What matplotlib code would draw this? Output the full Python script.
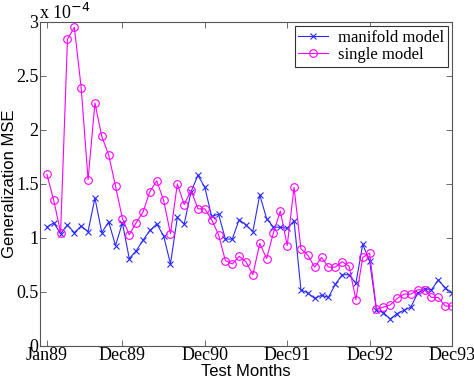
import matplotlib
matplotlib.use('Agg')
import matplotlib.pyplot as plt

# test months 1..60 (Jan89 .. Dec93), errors in units of 1e-4
months = list(range(1, 61))
manifold = [1.10, 1.14, 1.04, 1.12, 1.05, 1.11, 1.06, 1.37, 1.05, 1.15,
            0.93, 1.14, 0.81, 0.88, 0.98, 1.07, 1.13, 1.02, 0.76, 1.19,
            1.13, 1.43, 1.58, 1.47, 1.20, 1.22, 0.99, 0.99, 1.17, 1.12,
            1.06, 1.40, 1.18, 1.10, 1.10, 1.09, 1.16, 0.52, 0.49, 0.44,
            0.47, 0.45, 0.57, 0.66, 0.66, 0.58, 0.94, 0.79, 0.33, 0.31,
            0.25, 0.30, 0.33, 0.36, 0.49, 0.53, 0.52, 0.61, 0.54, 0.49]
single = [1.59, 1.35, 1.05, 2.84, 2.95, 2.39, 1.54, 2.25, 1.94, 1.77,
          1.48, 1.18, 1.03, 1.14, 1.24, 1.43, 1.53, 1.35, 1.04, 1.50,
          1.31, 1.44, 1.27, 1.27, 1.17, 1.03, 0.79, 0.76, 0.83, 0.78,
          0.66, 0.95, 0.81, 1.05, 1.25, 0.93, 1.47, 0.90, 0.84, 0.73,
          0.82, 0.73, 0.73, 0.78, 0.74, 0.43, 0.82, 0.86, 0.34, 0.36,
          0.38, 0.44, 0.48, 0.48, 0.52, 0.52, 0.45, 0.45, 0.37, 0.37]
tick_pos = [1, 12, 24, 36, 48, 60]
tick_lab = ['Jan89', 'Dec89', 'Dec90', 'Dec91', 'Dec92', 'Dec93']
ytick_pos = [0, 0.5, 1, 1.5, 2, 2.5, 3]
ytick_lab = ['0', '0.5', '1', '1.5', '2', '2.5', '3']

serif = 'Liberation Serif'
sans = 'Liberation Sans'

fig = plt.figure(figsize=(4.74, 3.80), dpi=100)
ax = fig.add_axes([40/474, 34/380, 412/474, 324/380])

ax.plot(months, manifold, '-', color='#2a2aff', lw=0.8, marker='x', ms=4, mew=0.8,
        label='manifold model')
ax.plot(months, single, '-', color='#ff00ff', lw=0.8, marker='o', ms=5.5, mew=0.8,
        mfc='none', label='single model')

ax.set_xlim(0, 60)
ax.set_ylim(0, 3)
ax.set_xticks(tick_pos)
ax.set_xticklabels(tick_lab, fontfamily=serif, fontsize=13)
ax.set_yticks(ytick_pos)
ax.set_yticklabels(ytick_lab, fontfamily=serif, fontsize=13)
ax.tick_params(direction='in', top=True, right=True, length=4, width=0.6,
               color='#555555', pad=1)
for s in ax.spines.values():
    s.set_color('#555555')
    s.set_linewidth(0.8)

ax.set_xlabel('Test Months', fontfamily=sans, fontsize=12, labelpad=0)
ax.set_ylabel('Generalization MSE', fontfamily=sans, fontsize=12, va='center')
ax.yaxis.set_label_coords(-30/412, 0.5)

fig.text(39/474, (380 - 19)/380, r'x 10$^{-4}$', fontfamily=serif, fontsize=13,
         va='baseline', ha='left')

leg = ax.legend(loc='upper right', prop={'family': serif, 'size': 12},
                fancybox=False, edgecolor='#333333', framealpha=1,
                borderaxespad=0.25, handlelength=1.8, borderpad=0.2,
                labelspacing=0.1, handletextpad=0.6)
leg.get_frame().set_linewidth(0.8)

fig.savefig('out.png', dpi=100)
